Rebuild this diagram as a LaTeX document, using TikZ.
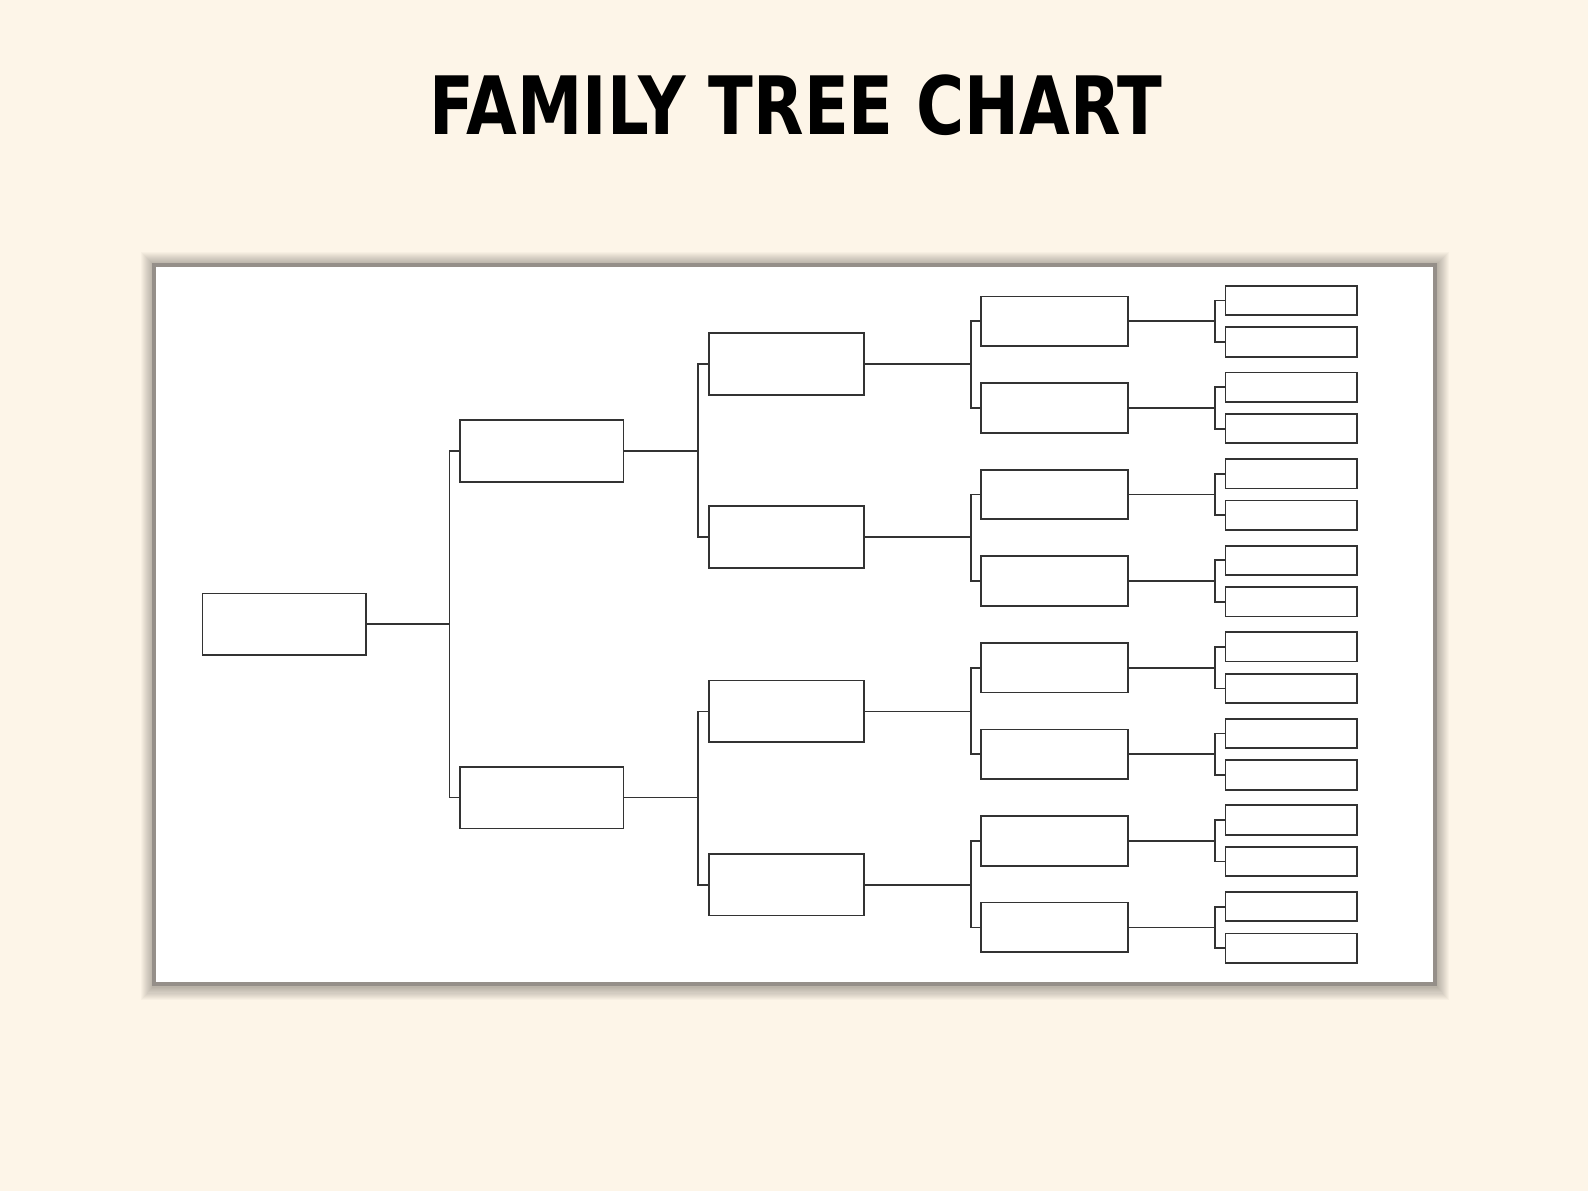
\documentclass[tikz,border=0pt]{standalone}
\usepackage{fontspec}
\usepackage{graphicx}
\newfontfamily\titlefont{DejaVu Sans}
\definecolor{cream}{HTML}{FDF5E8}
\definecolor{boxline}{HTML}{333333}
\definecolor{panelrim}{HTML}{958F89}
\begin{document}
\begin{tikzpicture}[x=0.01cm,y=-0.01cm,
    person/.style={draw=boxline,line width=0.5pt,inner sep=0pt},
    big/.style={person,minimum width=1.61cm,minimum height=0.61cm},
    mid/.style={person,minimum width=1.53cm,minimum height=0.61cm},
    small/.style={person,minimum width=1.45cm,minimum height=0.49cm},
    tiny/.style={person,minimum width=1.30cm,minimum height=0.29cm},
    link/.style={draw=boxline,line width=0.5pt}]
    \useasboundingbox (0,0) rectangle (1568,1176);
    \fill[cream] (0,0) rectangle (1568,1176);

    \node[anchor=base] (title) at (786,133) {\scalebox{0.815}[1]{\titlefont\bfseries\fontsize{22.6}{27}\selectfont FAMILY TREE CHART}};

    % panel with its soft shadow
    \foreach \s in {1,...,12}
        \fill[black,opacity=0.022] (151-\s,261-\s) rectangle (1419+\s,975+\s);
    \fill[panelrim] (150,260) rectangle (1419,974);
    \fill[white] (154,264) rectangle (1415,970);

    % generations 0 to 2
    \node[big] (g0) at (280.5,616.5) {};
    \node[big] (g1a) at (535,445.5) {};
    \node[big] (g1b) at (535,787.5) {};
    \foreach \i/\y in {1/359.5,2/530.5,3/702.5,4/873.5}
        \node[mid] (g2-\i) at (776.5,\y) {};

    % generations 3 and 4
    \foreach \i in {1,...,8}{
        \pgfmathsetmacro\y{317.25+85.5*(\i-1)}
        \node[small] (g3-\i) at (1041.5,\y) {};
        \node[tiny] (g4a-\i) at (1275,\y-20.5) {};
        \node[tiny] (g4b-\i) at (1275,\y+20.5) {};
        \draw[link] (g3-\i.east) -- ++(85,0) coordinate (j3-\i);
        \draw[link] (g4a-\i.west) -| (j3-\i) |- (g4b-\i.west);
    }

    \draw[link] (g0.east) -- ++(82,0) coordinate (j0);
    \draw[link] (g1a.west) -| (j0) |- (g1b.west);
    \draw[link] (g1a.east) -- ++(73,0) coordinate (j1a);
    \draw[link] (g2-1.west) -| (j1a) |- (g2-2.west);
    \draw[link] (g1b.east) -- ++(73,0) coordinate (j1b);
    \draw[link] (g2-3.west) -| (j1b) |- (g2-4.west);
    \foreach \i in {1,...,4}{
        \pgfmathtruncatemacro\a{2*\i-1}
        \pgfmathtruncatemacro\b{2*\i}
        \draw[link] (g2-\i.east) -- ++(105,0) coordinate (j2-\i);
        \draw[link] (g3-\a.west) -| (j2-\i) |- (g3-\b.west);
    }
\end{tikzpicture}
\end{document}
